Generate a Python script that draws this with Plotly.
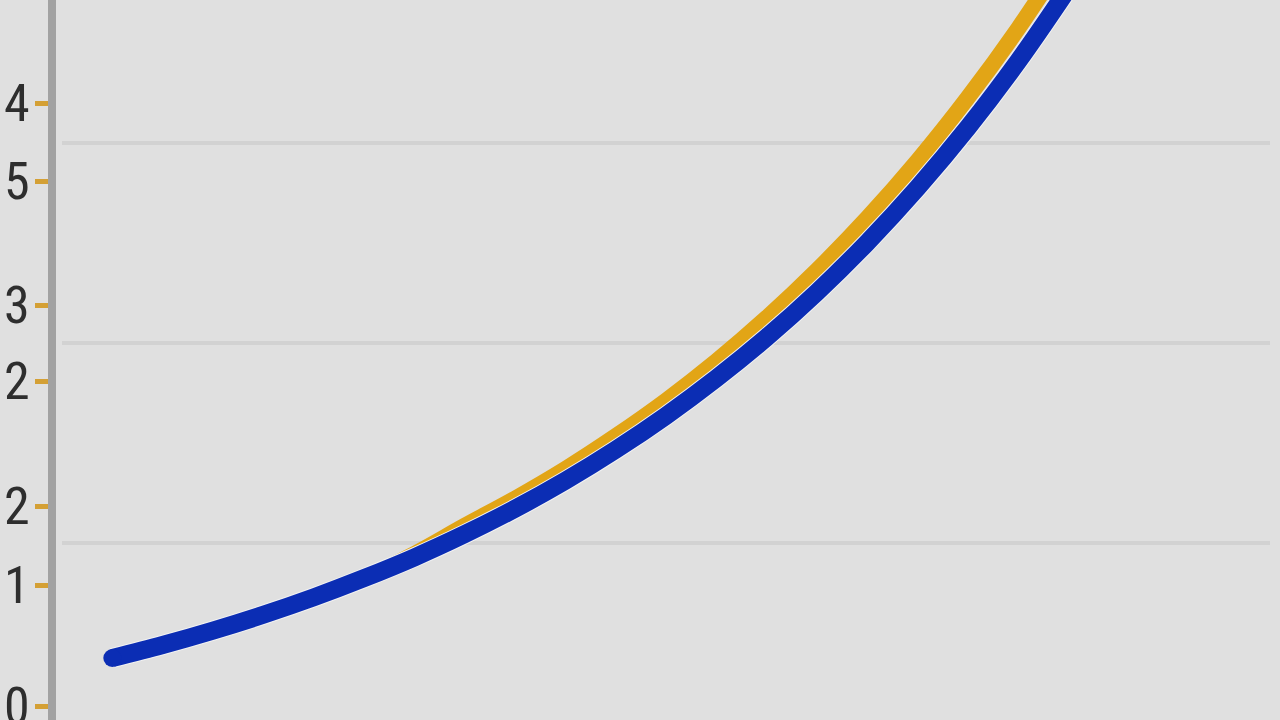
import plotly.graph_objects as go

# x positions (arbitrary time units)
x_vals = [0, 0.5, 1, 1.5, 2, 2.5, 3, 3.5, 4, 4.5, 5, 5.5, 6, 6.5, 7, 7.5, 8, 8.5, 9, 9.5]

# blue series
blue_vals = [0.425, 0.490, 0.562, 0.641, 0.728, 0.824, 0.928, 1.044, 1.171, 1.311,
             1.466, 1.636, 1.823, 2.028, 2.254, 2.503, 2.777, 3.078, 3.410, 3.775]

# orange series
orange_vals = [0.425, 0.490, 0.562, 0.641, 0.728, 0.824, 0.945, 1.086, 1.222, 1.370,
               1.534, 1.712, 1.909, 2.126, 2.364, 2.625, 2.912, 3.228, 3.574, 3.955]

# y tick positions and their (odd) labels as shown
tick_vals = [3.2, 2.81, 2.19, 1.81, 1.185, 0.79, 0.185]
tick_text = ["4", "5", "3", "2", "2", "1", "0"]
grid_vals = [1, 2, 3]

BG = "#e0e0e0"
BLUE = "#0b2db4"
ORANGE = "#e2a516"

fig = go.Figure()
fig.add_trace(go.Scatter(x=x_vals, y=orange_vals, mode="lines",
                         line=dict(color=ORANGE, width=16, shape="spline"),
                         hoverinfo="skip", showlegend=False))
fig.add_trace(go.Scatter(x=x_vals, y=blue_vals, mode="lines",
                         line=dict(color="#f2f2f2", width=20, shape="spline"),
                         hoverinfo="skip", showlegend=False))
fig.add_trace(go.Scatter(x=x_vals, y=blue_vals, mode="lines",
                         line=dict(color=BLUE, width=18, shape="spline"),
                         hoverinfo="skip", showlegend=False))
# rounded start cap of the blue line
fig.add_trace(go.Scatter(x=x_vals[:1], y=blue_vals[:1], mode="markers",
                         marker=dict(color=BLUE, size=18, line=dict(width=0)),
                         hoverinfo="skip", showlegend=False))
# invisible trace to activate gridline axis
fig.add_trace(go.Scatter(x=[x_vals[0]], y=[blue_vals[0]], yaxis="y2", mode="markers",
                         marker=dict(opacity=0), hoverinfo="skip", showlegend=False))

yr = [0.115, 3.715]
fig.update_layout(
    width=1280, height=720,
    margin=dict(l=0, r=0, t=0, b=0),
    paper_bgcolor=BG, plot_bgcolor=BG,
    xaxis=dict(domain=[62/1280, 1270/1280], range=[-0.5, 11.5], visible=False),
    yaxis=dict(range=yr, anchor="free", position=52/1280, showgrid=False, zeroline=False,
               showline=True, linecolor="#a2a2a2", linewidth=8,
               tickmode="array", tickvals=tick_vals, ticktext=tick_text,
               ticks="outside", ticklen=13, tickwidth=5, tickcolor="#d4a035",
               ticklabeloverflow="allow", ticklabelstandoff=-5,
               tickfont=dict(family="Roboto Condensed, Noto Sans Condensed, DejaVu Sans Condensed, Liberation Sans Narrow, sans-serif",
                             size=52, color="#2e2e2e"),
               automargin=False, layer="above traces"),
    yaxis2=dict(range=yr, overlaying="y", anchor="x", showgrid=True, gridcolor="#d2d2d2",
                gridwidth=4, tickmode="array", tickvals=grid_vals, showticklabels=False,
                ticks="", zeroline=False, showline=False, automargin=False),
)

fig.write_html("out.html", config={"displayModeBar": False},
               post_script="document.body.style.margin='0';document.body.style.background='%s';" % BG)
